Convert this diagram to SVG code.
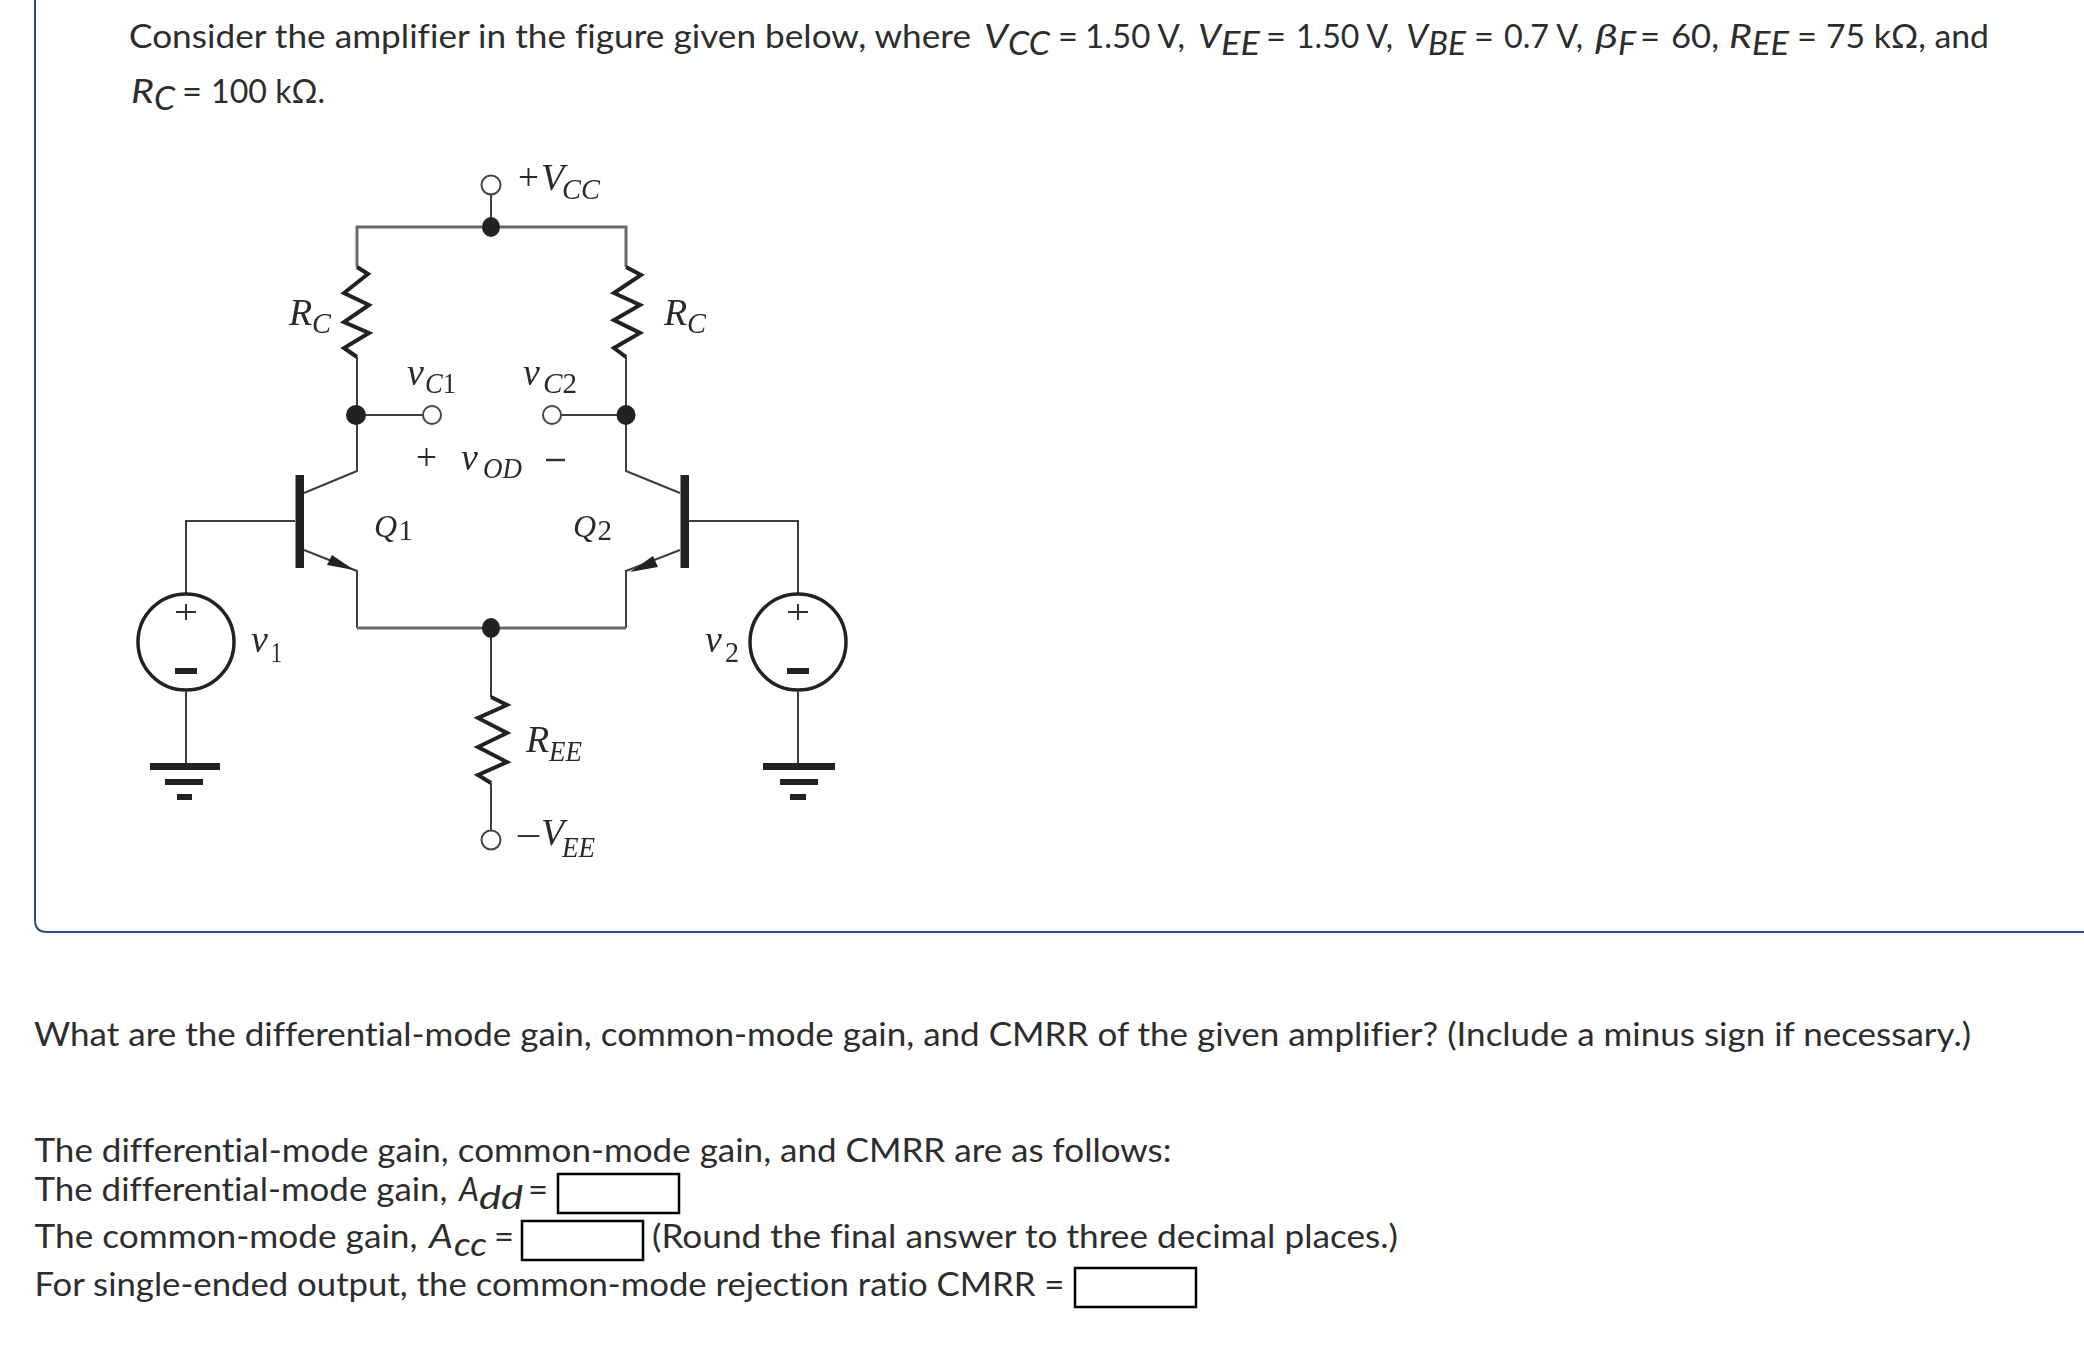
<svg xmlns="http://www.w3.org/2000/svg" width="2084" height="1354" viewBox="0 0 2084 1354">
<style>
.t{font-family:"Lato","Open Sans",sans-serif;font-size:32px;fill:#2d2d2d;font-variant-ligatures:none}
.i{font-family:"Lato","Open Sans",sans-serif;font-size:32px;font-style:italic;fill:#2d2d2d}
.s{font-family:"Liberation Serif",serif;font-style:italic;font-size:38px;fill:#2a2a2a}
.q{font-family:"Liberation Serif",serif;font-style:italic;font-size:32px;fill:#2a2a2a}
.u{font-family:"Liberation Serif",serif;font-style:italic;font-size:29px;fill:#2a2a2a}
.p{font-style:normal}
.n{font-family:"Liberation Serif",serif;font-size:38px;fill:#2a2a2a}
.w{fill:none;stroke:#3c3c3c;stroke-width:2}
.b{fill:none;stroke:#6a6a6a;stroke-width:3}
.z{fill:none;stroke:#222;stroke-width:4;stroke-linejoin:miter}
.d{fill:#222}
.o{fill:#fff;stroke:#444;stroke-width:2}
.box{fill:#fff;stroke:#000;stroke-width:2.5}
</style>
<defs><filter id="soft" x="-5%" y="-5%" width="110%" height="110%"><feGaussianBlur stdDeviation="0.7"/></filter></defs>
<rect width="2084" height="1354" fill="#fff"/>
<path id="panel" d="M35 0V920Q35 932 47 932H2084" fill="none" stroke="#2b4a86" stroke-width="2"/>
<g id="question">
<text class="t" x="129" y="48" textLength="842" lengthAdjust="spacingAndGlyphs">Consider the amplifier in the figure given below, where</text>
<text class="i" x="984" y="48" textLength="24" lengthAdjust="spacingAndGlyphs">V</text><text class="i" x="1008" y="55" textLength="42" lengthAdjust="spacingAndGlyphs">CC</text>
<text class="t" x="1058" y="48" textLength="20" lengthAdjust="spacingAndGlyphs">=</text>
<text class="t" x="1085" y="48" textLength="100" lengthAdjust="spacingAndGlyphs">1.50 V,</text>
<text class="i" x="1198" y="48" textLength="23" lengthAdjust="spacingAndGlyphs">V</text><text class="i" x="1221" y="55" textLength="39" lengthAdjust="spacingAndGlyphs">EE</text>
<text class="t" x="1266" y="48" textLength="20" lengthAdjust="spacingAndGlyphs">=</text>
<text class="t" x="1296" y="48" textLength="97" lengthAdjust="spacingAndGlyphs">1.50 V,</text>
<text class="i" x="1406" y="48" textLength="22" lengthAdjust="spacingAndGlyphs">V</text><text class="i" x="1428" y="55" textLength="38" lengthAdjust="spacingAndGlyphs">BE</text>
<text class="t" x="1474" y="48" textLength="20" lengthAdjust="spacingAndGlyphs">=</text>
<text class="t" x="1504" y="48" textLength="79" lengthAdjust="spacingAndGlyphs">0.7 V,</text>
<text class="i" x="1595" y="48" textLength="23" lengthAdjust="spacingAndGlyphs">β</text><text class="i" x="1618" y="55" textLength="18" lengthAdjust="spacingAndGlyphs">F</text>
<text class="t" x="1640" y="48" textLength="20" lengthAdjust="spacingAndGlyphs">=</text>
<text class="t" x="1671" y="48" textLength="48" lengthAdjust="spacingAndGlyphs">60,</text>
<text class="i" x="1729" y="48" textLength="23" lengthAdjust="spacingAndGlyphs">R</text><text class="i" x="1752" y="55" textLength="37" lengthAdjust="spacingAndGlyphs">EE</text>
<text class="t" x="1797" y="48" textLength="20" lengthAdjust="spacingAndGlyphs">=</text>
<text class="t" x="1826" y="48" textLength="163" lengthAdjust="spacingAndGlyphs">75 kΩ, and</text>
<text class="i" x="131" y="103" textLength="23" lengthAdjust="spacingAndGlyphs">R</text><text class="i" x="154" y="110" textLength="21" lengthAdjust="spacingAndGlyphs">C</text>
<text class="t" x="182" y="103" textLength="20" lengthAdjust="spacingAndGlyphs">=</text>
<text class="t" x="211" y="103" textLength="114" lengthAdjust="spacingAndGlyphs">100 kΩ.</text>
<text class="t" x="34" y="1046" textLength="1937" lengthAdjust="spacingAndGlyphs">What are the differential-mode gain, common-mode gain, and CMRR of the given amplifier? (Include a minus sign if necessary.)</text>
</g>
<g id="circuit" filter="url(#soft)">
<g id="connectors">
<path class="w" d="M491 195V227"/>
<path class="b" d="M357 267V227H626V267"/>
<path class="w" d="M357 357V471L304 493"/>
<path class="w" d="M626 357V471L680 493"/>
<path class="w" d="M357 415H423M626 415H561"/>
<path class="w" d="M295 521H186V593M689 521H798V593"/>
<path class="w" d="M304 550L357 571V628M680 550L626 571V628"/>
<path class="b" d="M357 628H626"/>
<path class="w" d="M491 628V697M491 783V830"/>
<path class="w" d="M186 692V766M798 692V766"/>
</g>
<g id="vcc"><circle class="o" cx="491" cy="185" r="9.5"/><ellipse class="d" cx="491" cy="227" rx="9" ry="10"/>
<text class="n" x="518" y="190" textLength="21" lengthAdjust="spacingAndGlyphs">+</text><text class="s" x="541" y="190">V</text><text class="u" x="562" y="199" textLength="38" lengthAdjust="spacingAndGlyphs">CC</text></g>
<g id="rc1"><path class="z" d="M357 267L368 274L344 293L369 305L344 322L369 333L344 348L357 357"/>
<text class="s" x="289" y="325">R</text><text class="u" x="312" y="333" textLength="19" lengthAdjust="spacingAndGlyphs">C</text></g>
<g id="rc2"><path class="z" d="M626 267L641 275L614 293L640 305L614 320L640 333L614 348L626 357"/>
<text class="s" x="664" y="325">R</text><text class="u" x="687" y="333" textLength="19" lengthAdjust="spacingAndGlyphs">C</text></g>
<g id="out1"><ellipse class="d" cx="356" cy="415" rx="10" ry="10"/><circle class="o" cx="432" cy="415" r="9"/>
<text class="s" x="407" y="385">v</text><text class="u" x="425" y="393" textLength="31" lengthAdjust="spacingAndGlyphs">C<tspan class="p">1</tspan></text></g>
<g id="out2"><ellipse class="d" cx="626" cy="415" rx="9.5" ry="10"/><circle class="o" cx="552" cy="415" r="9"/>
<text class="s" x="523" y="385">v</text><text class="u" x="543" y="393" textLength="34" lengthAdjust="spacingAndGlyphs">C<tspan class="p">2</tspan></text></g>
<g id="vod"><text class="n" x="416" y="470" textLength="21" lengthAdjust="spacingAndGlyphs">+</text><text class="s" x="461" y="470">v</text><text class="u" x="483" y="478" textLength="39" lengthAdjust="spacingAndGlyphs">OD</text><path d="M546 460H565" stroke="#333" stroke-width="2.5"/></g>
<g id="q1"><rect class="d" x="295.500" y="475" width="8.500" height="93"/><path class="d" d="M354 570L332 555L327 565Z"/>
<text class="q" x="374" y="537">Q</text><text class="u p" x="398.500" y="540" font-size="26">1</text></g>
<g id="q2"><rect class="d" x="680.500" y="475" width="8.500" height="93"/><path class="d" d="M630 572L653 556L658 567Z"/>
<text class="q" x="573" y="537">Q</text><text class="u p" x="597.500" y="540">2</text></g>
<g id="v1"><circle cx="186" cy="642" r="48" fill="#fff" stroke="#222" stroke-width="3.500"/><path d="M176 612H196M186 604V620" stroke="#333" stroke-width="2"/><rect class="d" x="175" y="668" width="22" height="6"/>
<text class="s" x="251" y="652">v</text><text class="u p" x="271" y="662" textLength="11" lengthAdjust="spacingAndGlyphs">1</text></g>
<g id="v2"><circle cx="798" cy="642" r="48" fill="#fff" stroke="#222" stroke-width="3.500"/><path d="M788 612H808M798 604V620" stroke="#333" stroke-width="2"/><rect class="d" x="787" y="668" width="22" height="6"/>
<text class="s" x="705" y="652">v</text><text class="u p" x="725" y="662" textLength="14" lengthAdjust="spacingAndGlyphs">2</text></g>
<g id="gnd1"><rect class="d" x="150" y="763" width="70" height="7"/><rect class="d" x="165" y="779" width="38" height="6"/><rect class="d" x="177" y="794" width="15" height="6"/></g>
<g id="gnd2"><rect class="d" x="763" y="763" width="72" height="7"/><rect class="d" x="780" y="779" width="38" height="6"/><rect class="d" x="790" y="794" width="16" height="6"/></g>
<g id="emitter-node"><ellipse class="d" cx="491" cy="628" rx="9" ry="10"/></g>
<g id="ree"><path class="z" d="M491 697L507 705L478 718L507 733L478 747L507 762L478 775L491 783"/>
<text class="s" x="526" y="752">R</text><text class="u" x="549" y="761" textLength="33" lengthAdjust="spacingAndGlyphs">EE</text></g>
<g id="vee"><circle class="o" cx="491" cy="840" r="9.500"/><text class="n" x="518" y="845" textLength="21" lengthAdjust="spacingAndGlyphs">–</text><text class="s" x="541" y="845">V</text><text class="u" x="562" y="857" textLength="33" lengthAdjust="spacingAndGlyphs">EE</text></g>
</g>
<g id="answers">
<text class="t" x="34.500" y="1162" textLength="1137" lengthAdjust="spacingAndGlyphs">The differential-mode gain, common-mode gain, and CMRR are as follows:</text>
<text class="t" x="34.500" y="1201" textLength="413" lengthAdjust="spacingAndGlyphs">The differential-mode gain,</text>
<text class="i" x="459" y="1201" textLength="20" lengthAdjust="spacingAndGlyphs">A</text><text class="i" x="479" y="1209" textLength="44" lengthAdjust="spacingAndGlyphs">dd</text>
<text class="t" x="528" y="1201" textLength="20" lengthAdjust="spacingAndGlyphs">=</text>
<rect id="answer-add" class="box" x="558" y="1174" width="121" height="39"/>
<text class="t" x="34.500" y="1248" textLength="383" lengthAdjust="spacingAndGlyphs">The common-mode gain,</text>
<text class="i" x="429" y="1248" textLength="24" lengthAdjust="spacingAndGlyphs">A</text><text class="i" x="454" y="1256" textLength="33" lengthAdjust="spacingAndGlyphs">cc</text>
<text class="t" x="494" y="1248" textLength="20" lengthAdjust="spacingAndGlyphs">=</text>
<rect id="answer-acc" class="box" x="522" y="1221" width="121" height="39"/>
<text class="t" x="652" y="1248" textLength="746" lengthAdjust="spacingAndGlyphs">(Round the final answer to three decimal places.)</text>
<text class="t" x="34.500" y="1296" textLength="1030" lengthAdjust="spacingAndGlyphs">For single-ended output, the common-mode rejection ratio CMRR =</text>
<rect id="answer-cmrr" class="box" x="1075" y="1268" width="121" height="39"/>
</g>
</svg>
